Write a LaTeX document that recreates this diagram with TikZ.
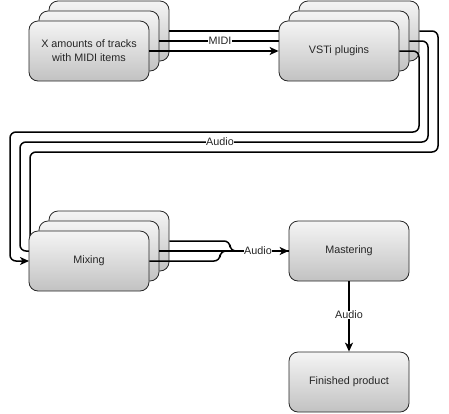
\documentclass[tikz,border=0pt]{standalone}
\usepackage{fontspec}
\setmainfont{Liberation Sans}
\usetikzlibrary{arrows.meta}
\tikzset{
  box/.style={draw=black!85, line width=0.8pt, rounded corners=9pt,
    top color=white!96!black, bottom color=black!24,
    minimum width=120pt, minimum height=60pt, inner sep=2pt,
    align=center, text=black!85, font=\fontsize{10.8pt}{14pt}\selectfont},
  conn/.style={draw=black, line width=1.5pt, rounded corners=6pt},
  tip/.style={-{Stealth[length=9pt,width=8pt,inset=2.5pt]}},
  lbl/.style={fill=white, inner sep=0.5pt, text=black!85,
    font=\fontsize{10.8pt}{13pt}\selectfont}
}
\begin{document}
\begin{tikzpicture}[x=1pt,y=-1pt]
\useasboundingbox (0,0) rectangle (449,413);
% back and middle boxes
\node[box] (t1) at (109,31) {};
\node[box] (t2) at (99,41) {};
\node[box] (v1) at (359,31) {};
\node[box] (v2) at (349,41) {};
\node[box] (m1) at (109,241) {};
\node[box] (m2) at (99,251) {};
% connectors tracks -> VSTi
\draw[conn] (t1.east) -- (t1.east -| v2.west);
\draw[conn] (t2.east) -- (t2.east -| v2.west);
% connectors VSTi -> Mixing
\draw[conn] (v1.east) -- (438,31) -- (438,152) -- (30,152) -- (30,241) -- (m1.west);
\draw[conn] (v2.east) -- (428,41) -- (428,142) -- (20,142) -- (20,251) -- (m2.west);
% front boxes
\node[box] (t3) at (89,51) {X amounts of tracks\\with MIDI items};
\node[box] (v3) at (339,51) {VSTi plugins};
\node[box] (ma) at (349,251) {Mastering};
\node[box] (fp) at (349,382) {Finished product};
\draw[conn,tip] (t3.east) -- (v3.west);
\draw[conn,tip] (v3.east) -- (419,51) -- (419,132) -- (10,132) -- (10,261) -- (29,261);
\node[box] (m3) at (89,261) {Mixing};
% connectors Mixing -> Mastering
\draw[conn] (m1.east) -- (230,241) -- (230,251) -- (ma.west);
\draw[conn] (m2.east) -- (ma.west);
\draw[conn,tip] (m3.east) -- (220,261) -- (220,251) -- (ma.west);
\draw[conn,tip] (ma.south) -- (fp.north);
% labels
\node[lbl] (l1) at (220,41) {MIDI};
\node[lbl] (l2) at (220,142) {Audio};
\node[lbl] (l3) at (258,251) {Audio};
\node[lbl] (l4) at (349,315) {Audio};
\end{tikzpicture}
\end{document}
